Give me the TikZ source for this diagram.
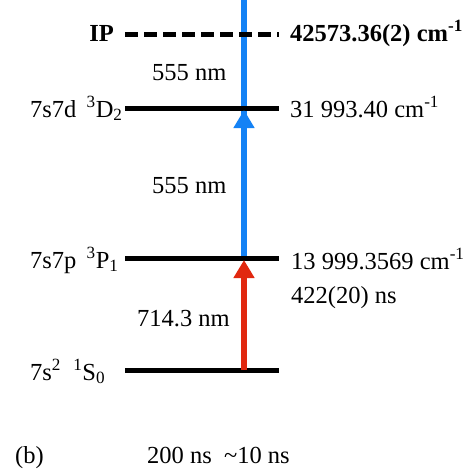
\documentclass[tikz,border=0pt]{standalone}
\usepackage{fontspec}
\setmainfont{Liberation Serif}
\usetikzlibrary{arrows.meta}
\definecolor{laserblue}{RGB}{20,130,245}
\definecolor{laserred}{RGB}{225,40,15}
\tikzset{
  level/.style={line width=5pt, black},
  lbl/.style={anchor=base west, inner sep=0pt, font=\fontsize{24.5}{28}\selectfont},
  lble/.style={anchor=base east, inner sep=0pt, font=\fontsize{24.5}{28}\selectfont},
  bluebeam/.style={line width=6pt, laserblue},
  redbeam/.style={line width=6pt, laserred},
  head/.style={-{Triangle[width=20pt,length=18pt]}}
}
\begin{document}
\begin{tikzpicture}[x=1pt,y=-1pt]
\useasboundingbox[fill=white] (0,0) rectangle (474,474);
% level coordinates
\coordinate (ipL) at (125,34);   \coordinate (ipR) at (279,34);
\coordinate (dL) at (125,108);   \coordinate (dR) at (279,108);
\coordinate (pL) at (125,258);   \coordinate (pR) at (279,258);
\coordinate (sL) at (125,370);   \coordinate (sR) at (279,370);
\coordinate (top) at (244,0);
\coordinate (dX) at (244,108);
\coordinate (dTip) at (244,110);
\coordinate (pX) at (244,258);
\coordinate (pTip) at (244,260);
\coordinate (sX) at (244,370);
% beams
\draw[bluebeam] (dX) -- (top);
\draw[bluebeam] (pX) -- (dX);
% levels
\draw[level, dash pattern=on 13pt off 6pt] (ipL) -- (ipR);
\draw[level] (dL) -- (dR);
\draw[level] (pL) -- (pR);
\draw[level] (sL) -- (sR);
% arrow heads
\draw[bluebeam, head] (244,140) -- (dTip);
\draw[redbeam, head] (sX) -- (pTip);
% labels
\node[lble, font=\fontsize{24.5}{28}\selectfont\bfseries] (ip) at (114,41) {IP};
\node[lbl, font=\fontsize{24.5}{28}\selectfont\bfseries] (ipv) at (290,41) {42573.36(2) cm\textsuperscript{-1}};
\node[lbl] (w1) at (152,80) {555 nm};
\node[lbl] (dlab) at (30,117) {7s7d \,\textsuperscript{3}D\textsubscript{2}};
\node[lbl] (dv) at (290,117) {31 993.40 cm\textsuperscript{-1}};
\node[lbl] (w2) at (152,193) {555 nm};
\node[lbl] (plab) at (30,268) {7s7p \,\textsuperscript{3}P\textsubscript{1}};
\node[lbl] (pv) at (291,269) {13 999.3569 cm\textsuperscript{-1}};
\node[lbl] (pt) at (291,303) {422(20) ns};
\node[lbl] (w3) at (137,326) {714.3 nm};
\node[lbl] (slab) at (30,380) {7s\textsuperscript{2} \ \textsuperscript{1}S\textsubscript{0}};
\node[lbl] (b) at (15,463) {(b)};
\node[lbl] (ns) at (147,463) {200 ns \ \textasciitilde10 ns};
\end{tikzpicture}
\end{document}
